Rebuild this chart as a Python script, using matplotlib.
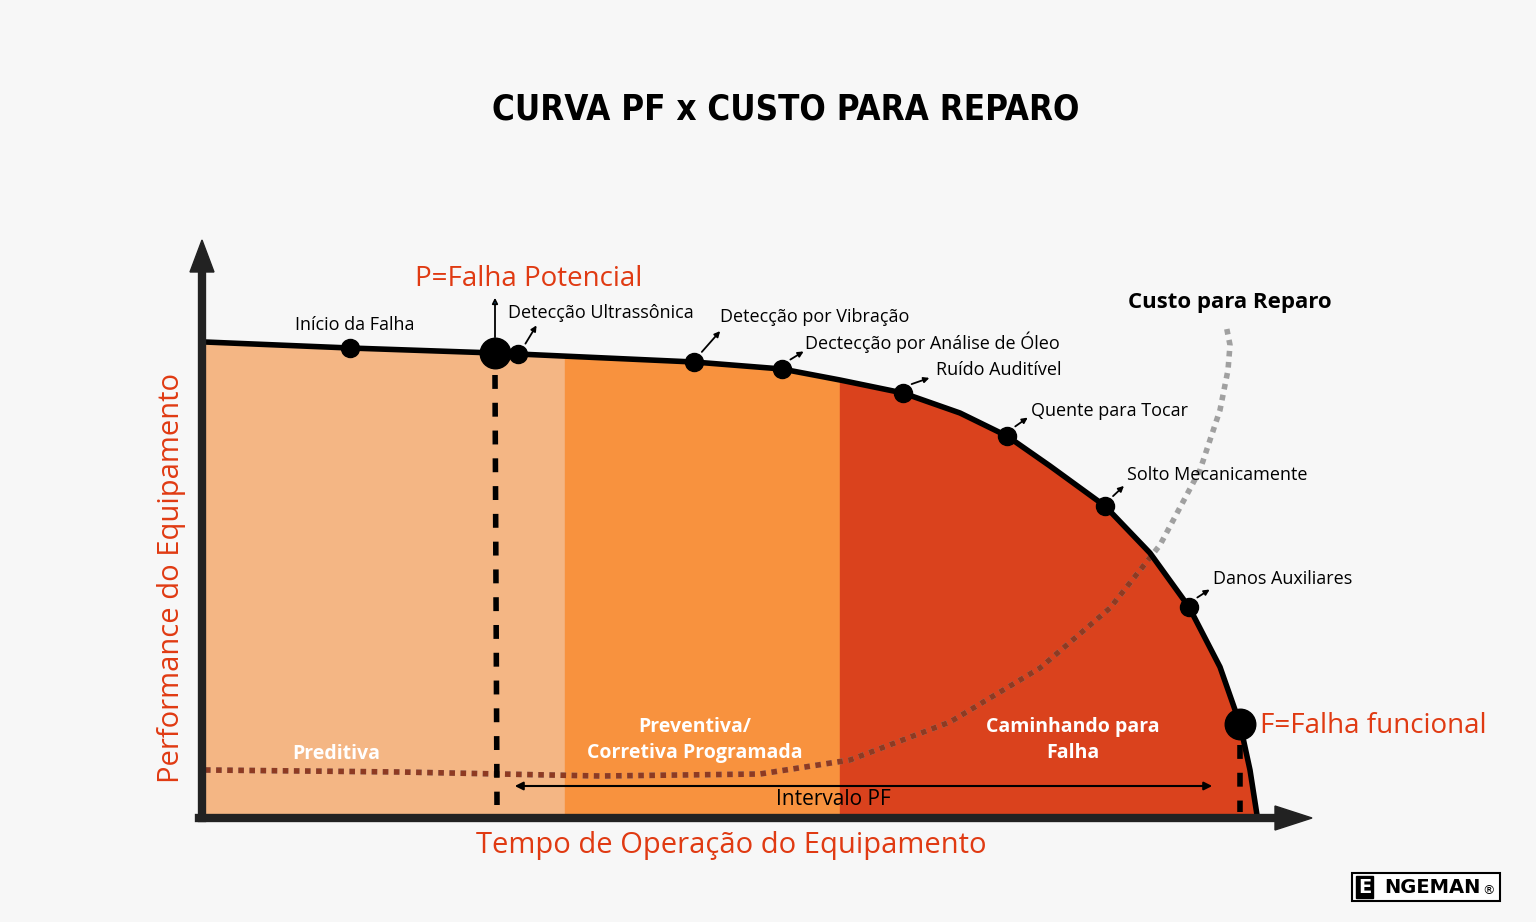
import matplotlib
matplotlib.use("Agg")
import matplotlib.pyplot as plt
from matplotlib.patches import Polygon, Rectangle

# PF curve (pixel coords)
curve_x = [205, 350, 495, 518, 694, 782, 840, 903, 960, 1007, 1050, 1105, 1150, 1189, 1220, 1240, 1250, 1257]
curve_y = [342, 348, 353, 354, 362, 369, 380, 393, 413, 436, 466, 506, 553, 607, 667, 724, 770, 815]
# markers
mark_labels = ["Início da Falha", "", "Detecção Ultrassônica", "Detecção por Vibração",
               "Dectecção por Análise de Óleo", "Ruído Auditível", "Quente para Tocar",
               "Solto Mecanicamente", "Danos Auxiliares", ""]
mark_x = [350, 495, 518, 694, 782, 903, 1007, 1105, 1189, 1240]
mark_y = [348, 353, 354, 362, 369, 393, 436, 506, 607, 724]
mark_size = [13, 22, 13, 13, 13, 13, 13, 13, 13, 22]
label_pos = [(295, 325), None, (508, 313), (720, 317), (805, 342), (936, 370), (1031, 411), (1127, 475), (1213, 579), None]
arrow_tip = [None, None, (538, 323), (722, 329), (806, 350), (932, 377), (1030, 416), (1126, 484), (1212, 588), None]
# cost curve
cost_x = [205, 400, 600, 760, 850, 950, 1040, 1110, 1160, 1200, 1220, 1228, 1230, 1226]
cost_y = [770, 772, 776, 774, 760, 722, 668, 608, 545, 470, 410, 370, 345, 325]
# zones
zone_edges = [205, 565, 840, 1300]
zone_colors = ["#F4B684", "#F8923E", "#DA421D"]
zone_labels = ["Preditiva", "Preventiva/\nCorretiva Programada", "Caminhando para\nFalha"]
zone_label_pos = [(336, 754), (695, 740), (1073, 740)]

fig = plt.figure(figsize=(15.36, 9.22), dpi=100, facecolor="#F7F7F7")
ax = fig.add_axes([0, 0, 1, 1])
ax.set_xlim(0, 1536); ax.set_ylim(922, 0); ax.axis("off")
base = 815
poly_pts = list(zip(curve_x, curve_y)) + [(205, base)]
clip = Polygon(poly_pts, closed=True, facecolor="none", edgecolor="none")
ax.add_patch(clip)
for i, c in enumerate(zone_colors):
    r = Rectangle((zone_edges[i], 300), zone_edges[i+1]-zone_edges[i], base-300, color=c, zorder=1)
    ax.add_patch(r); r.set_clip_path(clip)
ax.plot(cost_x, cost_y, color="#A0A0A0", lw=4, ls=(0, (1, 1)), zorder=2)
cl, = ax.plot(cost_x, cost_y, color="#8E3A22", lw=4, ls=(0, (1, 1)), zorder=2)
cl.set_clip_path(clip)
ax.plot(curve_x, curve_y, color="black", lw=4, zorder=4)
# axes arrows
ax.plot([202, 202], [818, 265], color="#222", lw=6, zorder=5)
ax.add_patch(Polygon([(190, 272), (214, 272), (202, 240)], color="#222", zorder=5))
ax.plot([199, 1280], [818, 818], color="#222", lw=6, zorder=5)
ax.add_patch(Polygon([(1275, 806), (1275, 830), (1312, 818)], color="#222", zorder=5))
ax.plot([495, 497], [375, 805], color="black", lw=4, ls=(0, (2.5, 2.5)), zorder=5)
ax.plot([1240, 1240], [745, 812], color="black", lw=4, ls=(0, (2.5, 2.5)), zorder=5)
fam = ["Open Sans", "DejaVu Sans"]
for x, y, s, lab, lp, tip in zip(mark_x, mark_y, mark_size, mark_labels, label_pos, arrow_tip):
    ax.plot(x, y, "o", ms=s, color="black", zorder=6)
    if lp:
        ax.text(lp[0], lp[1], lab, fontsize=13, family=fam, va="center", ha="left", zorder=7)
    if tip:
        ax.annotate("", xy=tip, xytext=(x + 6, y - 8),
                    arrowprops=dict(arrowstyle="-|>", lw=1.3, color="black", mutation_scale=8), zorder=7)
ax.annotate("", xy=(495, 295), xytext=(495, 340),
            arrowprops=dict(arrowstyle="-|>", lw=1.3, mutation_scale=8))
ax.text(415, 279, "P=Falha Potencial", fontsize=20, color="#E03A12", family=fam, va="center")
ax.text(1260, 726, "F=Falha funcional", fontsize=20, color="#E03A12", family=fam, va="center")
ax.text(1128, 302, "Custo para Reparo", fontsize=16, fontweight="bold", family=fam, va="center")
for (x, y), t in zip(zone_label_pos, zone_labels):
    ax.text(x, y, t, fontsize=14, fontweight="bold", color="white", family=fam, ha="center", va="center", linespacing=1.4, zorder=7)
ax.annotate("", xy=(512, 786), xytext=(1215, 786),
            arrowprops=dict(arrowstyle="<|-|>", lw=1.5, color="black", mutation_scale=12), zorder=7)
ax.text(833, 799, "Intervalo PF", fontsize=15, family=fam, ha="center", va="center", zorder=7)
ax.text(731, 845, "Tempo de Operação do Equipamento", fontsize=21, color="#E03A12", family=fam, ha="center", va="center")
ax.text(172, 578, "Performance do Equipamento", fontsize=21, color="#E03A12", family=fam, ha="center", va="center", rotation=90)
ax.text(786, 110, "CURVA PF x CUSTO PARA REPARO", fontsize=25, fontweight="bold", fontstretch="condensed",
        family=["DejaVu Sans"], ha="center", va="center")
ax.add_patch(Rectangle((1352, 873), 148, 28, facecolor="white", edgecolor="black", lw=1.5))
ax.text(1358, 887, "E", fontsize=14, fontweight="bold", color="white", va="center",
        bbox=dict(boxstyle="square,pad=0.1", fc="black", ec="black"))
ax.text(1384, 887, "NGEMAN", fontsize=14, fontweight="bold", va="center")
ax.text(1482, 891, "®", fontsize=9, va="center")
fig.savefig("out.png", dpi=100, facecolor=fig.get_facecolor())
